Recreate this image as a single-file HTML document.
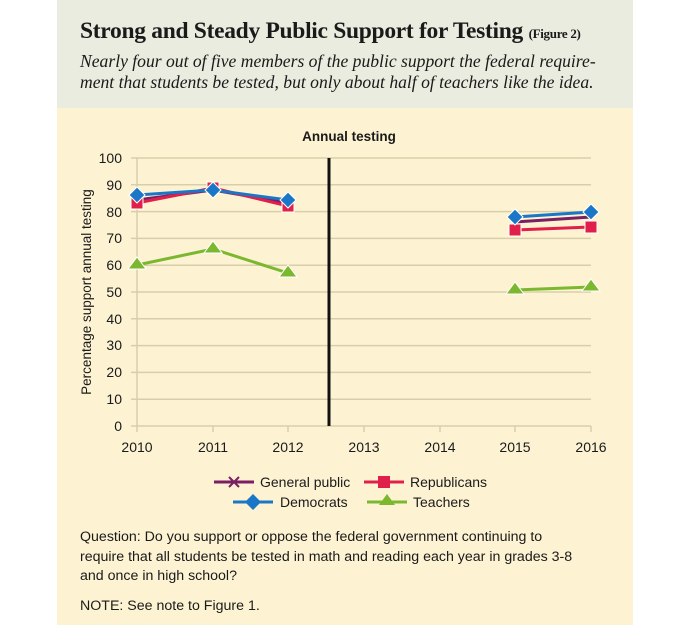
<!DOCTYPE html>
<html><head><meta charset="utf-8"><style>
body{margin:0;width:690px;height:625px;background:#fff;position:relative;overflow:hidden}
.card{position:absolute;left:57px;top:0;width:576px;height:625px;background:#fdf3d3}
.hdr{position:absolute;left:0;top:0;width:576px;height:108px;background:#eaecdf}
.t{position:absolute;left:23px;top:18px;font-family:"Liberation Serif",serif;font-weight:bold;font-size:23.5px;color:#1a1a1a;white-space:nowrap;letter-spacing:-0.3px}
.t small{font-size:13px;font-weight:bold}
.s{position:absolute;left:23px;top:51px;font-family:"Liberation Serif",serif;font-style:italic;font-size:17.6px;line-height:21px;color:#1a1a1a;white-space:nowrap}
.q{position:absolute;left:23px;top:528px;font-family:"Liberation Sans",sans-serif;font-size:14.2px;line-height:19.5px;color:#1a1a1a;white-space:nowrap}
svg{position:absolute;left:0;top:0}
</style></head><body>
<div class="card"><div class="hdr"></div>
<div class="t">Strong and Steady Public Support for Testing <small>(Figure 2)</small></div>
<div class="s">Nearly four out of five members of the public support the federal require-<br>ment that students be tested, but only about half of teachers like the idea.</div>
<div class="q">Question: Do you support or oppose the federal government continuing to<br>require that all students be tested in math and reading each year in grades 3-8<br>and once in high school?<div style="margin-top:10px">NOTE: See note to Figure 1.</div></div>
</div>
<svg width="690" height="625" font-family="Liberation Sans,sans-serif">
<g stroke="#d8cfaa" stroke-width="1.5">
<line x1="131" x2="591" y1="158" y2="158"/><line x1="131" x2="591" y1="184.8" y2="184.8"/><line x1="131" x2="591" y1="211.6" y2="211.6"/><line x1="131" x2="591" y1="238.4" y2="238.4"/><line x1="131" x2="591" y1="265.2" y2="265.2"/><line x1="131" x2="591" y1="292" y2="292"/><line x1="131" x2="591" y1="318.8" y2="318.8"/><line x1="131" x2="591" y1="345.6" y2="345.6"/><line x1="131" x2="591" y1="372.4" y2="372.4"/><line x1="131" x2="591" y1="399.2" y2="399.2"/><line x1="131" x2="591" y1="426" y2="426"/>
<line x1="137" x2="137" y1="158" y2="432"/><line x1="213" x2="213" y1="426" y2="432"/><line x1="288" x2="288" y1="426" y2="432"/><line x1="364" x2="364" y1="426" y2="432"/><line x1="440" x2="440" y1="426" y2="432"/><line x1="515" x2="515" y1="426" y2="432"/><line x1="591" x2="591" y1="426" y2="432"/>
</g>
<line x1="329" x2="329" y1="158" y2="426" stroke="#111" stroke-width="3"/>
<text x="349" y="141" text-anchor="middle" font-size="13.5" font-weight="bold" fill="#1a1a1a">Annual testing</text>
<g font-size="14" fill="#1a1a1a" text-anchor="end">
<text x="122" y="163">100</text><text x="122" y="190">90</text><text x="122" y="217">80</text><text x="122" y="243">70</text><text x="122" y="270">60</text><text x="122" y="297">50</text><text x="122" y="324">40</text><text x="122" y="350">30</text><text x="122" y="377">20</text><text x="122" y="404">10</text><text x="122" y="431">0</text>
</g>
<g font-size="14" fill="#1a1a1a" text-anchor="middle">
<text x="137" y="452">2010</text><text x="213" y="452">2011</text><text x="288" y="452">2012</text><text x="364" y="452">2013</text><text x="440" y="452">2014</text><text x="515" y="452">2015</text><text x="591" y="452">2016</text>
</g>
<text transform="translate(91,292) rotate(-90)" text-anchor="middle" font-size="13.5" fill="#1a1a1a">Percentage support annual testing</text>
<g fill="none" stroke-width="3" stroke-linejoin="round">
<polyline points="137,200 213,190 288,203" stroke="#7b1f63"/><polyline points="515,222 591,217" stroke="#7b1f63"/>
<polyline points="137,203 213,188 288,206" stroke="#e0204b"/><polyline points="515,230 591,227" stroke="#e0204b"/>
<polyline points="137,195 213,190 288,200" stroke="#1a76c7"/><polyline points="515,217 591,212" stroke="#1a76c7"/>
<polyline points="137,265 213,249 288,273" stroke="#7cb82f"/><polyline points="515,290 591,287" stroke="#7cb82f"/>
</g>
<g fill="#e0204b" stroke="#fff" stroke-width="1">
<rect x="131" y="197" width="12" height="12"/><rect x="207" y="182" width="12" height="12"/><rect x="282" y="200" width="12" height="12"/><rect x="509" y="224" width="12" height="12"/><rect x="585" y="221" width="12" height="12"/>
</g>
<g fill="#1a76c7" stroke="#fff" stroke-width="1">
<path d="M137,187 l8,8 -8,8 -8,-8z"/><path d="M213,182 l8,8 -8,8 -8,-8z"/><path d="M288,192 l8,8 -8,8 -8,-8z"/><path d="M515,209 l8,8 -8,8 -8,-8z"/><path d="M591,204 l8,8 -8,8 -8,-8z"/>
</g>
<g fill="#7cb82f" stroke="#fff" stroke-width="1">
<path d="M137,257 l9,12 -18,0z"/><path d="M213,241 l9,12 -18,0z"/><path d="M288,265 l9,12 -18,0z"/><path d="M515,282 l9,12 -18,0z"/><path d="M591,279 l9,12 -18,0z"/>
</g>
<g font-size="14" fill="#1a1a1a">
<line x1="214" x2="254" y1="482" y2="482" stroke="#7b1f63" stroke-width="3"/><path d="M229,477 l10,10 M239,477 l-10,10" stroke="#7b1f63" stroke-width="2"/>
<text x="260" y="487">General public</text>
<line x1="364" x2="404" y1="482" y2="482" stroke="#e0204b" stroke-width="3"/><rect x="378" y="476" width="12" height="12" fill="#e0204b"/>
<text x="410" y="487">Republicans</text>
<line x1="233" x2="273" y1="502" y2="502" stroke="#1a76c7" stroke-width="3"/><path d="M253,494 l8,8 -8,8 -8,-8z" fill="#1a76c7"/>
<text x="280" y="507">Democrats</text>
<line x1="367" x2="407" y1="502" y2="502" stroke="#7cb82f" stroke-width="3"/><path d="M387,494 l8,11 -16,0z" fill="#7cb82f"/>
<text x="413" y="507">Teachers</text>
</g>
</svg>
</body></html>
